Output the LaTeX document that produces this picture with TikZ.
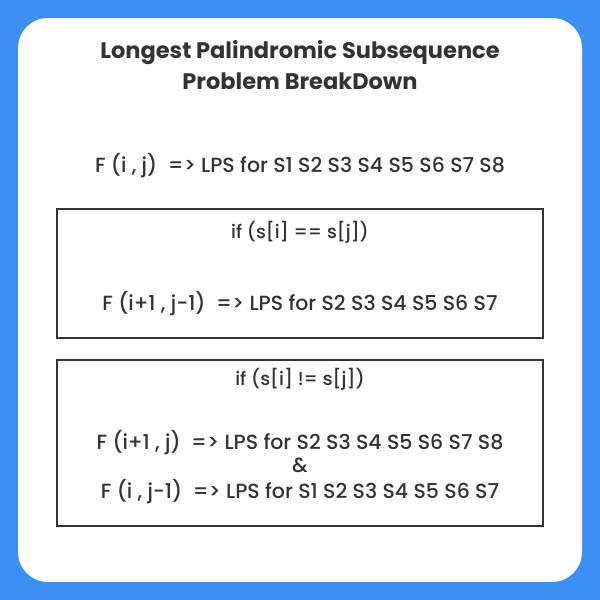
\documentclass[tikz,border=0pt]{standalone}
\usepackage{fontspec}
\setmainfont{Poppins Medium}
\newfontfamily\titlefont{Poppins Bold}
\definecolor{bgblue}{RGB}{59,142,242}
\definecolor{ink}{RGB}{51,51,51}
\begin{document}
\begin{tikzpicture}[x=1pt,y=-1pt,
  txt/.style={text=ink,font=\fontsize{20.5}{24}\selectfont,inner sep=0pt,anchor=base},
  cond/.style={text=ink,font=\fontsize{18.5}{22}\selectfont,inner sep=0pt,anchor=base},
  ttl/.style={text=ink,font=\titlefont\fontsize{22.5}{27}\selectfont,inner sep=0pt,anchor=base},
  casebox/.style={draw=ink,line width=2pt}]
\useasboundingbox (0,0) rectangle (600,600);
\fill[bgblue] (0,0) rectangle (600,600);
\fill[white,rounded corners=30pt] (18,18) rectangle (582,582);
\node[ttl] (t1) at (300,58) {Longest Palindromic Subsequence};
\node[ttl] (t2) at (300,89) {Problem BreakDown};
\node[txt] (f0) at (300,172) {F (i , j)\ \ => LPS for S1 S2 S3 S4 S5 S6 S7 S8};
\draw[casebox] (57,209) rectangle (543,338);
\node[cond] (c1) at (300,238) {if (s[i] == s[j])};
\node[txt] (f1) at (300,310) {F (i+1 , j-1)\ \ => LPS for S2 S3 S4 S5 S6 S7};
\draw[casebox] (57,360) rectangle (543,526);
\node[cond] (c2) at (300,385) {if (s[i] != s[j])};
\node[txt] (f2) at (300,449) {F (i+1 , j)\ \ => LPS for S2 S3 S4 S5 S6 S7 S8};
\node[txt] (amp) at (300,472) {\&};
\node[txt] (f3) at (300,498) {F (i , j-1)\ \ => LPS for S1 S2 S3 S4 S5 S6 S7};
\end{tikzpicture}
\end{document}
